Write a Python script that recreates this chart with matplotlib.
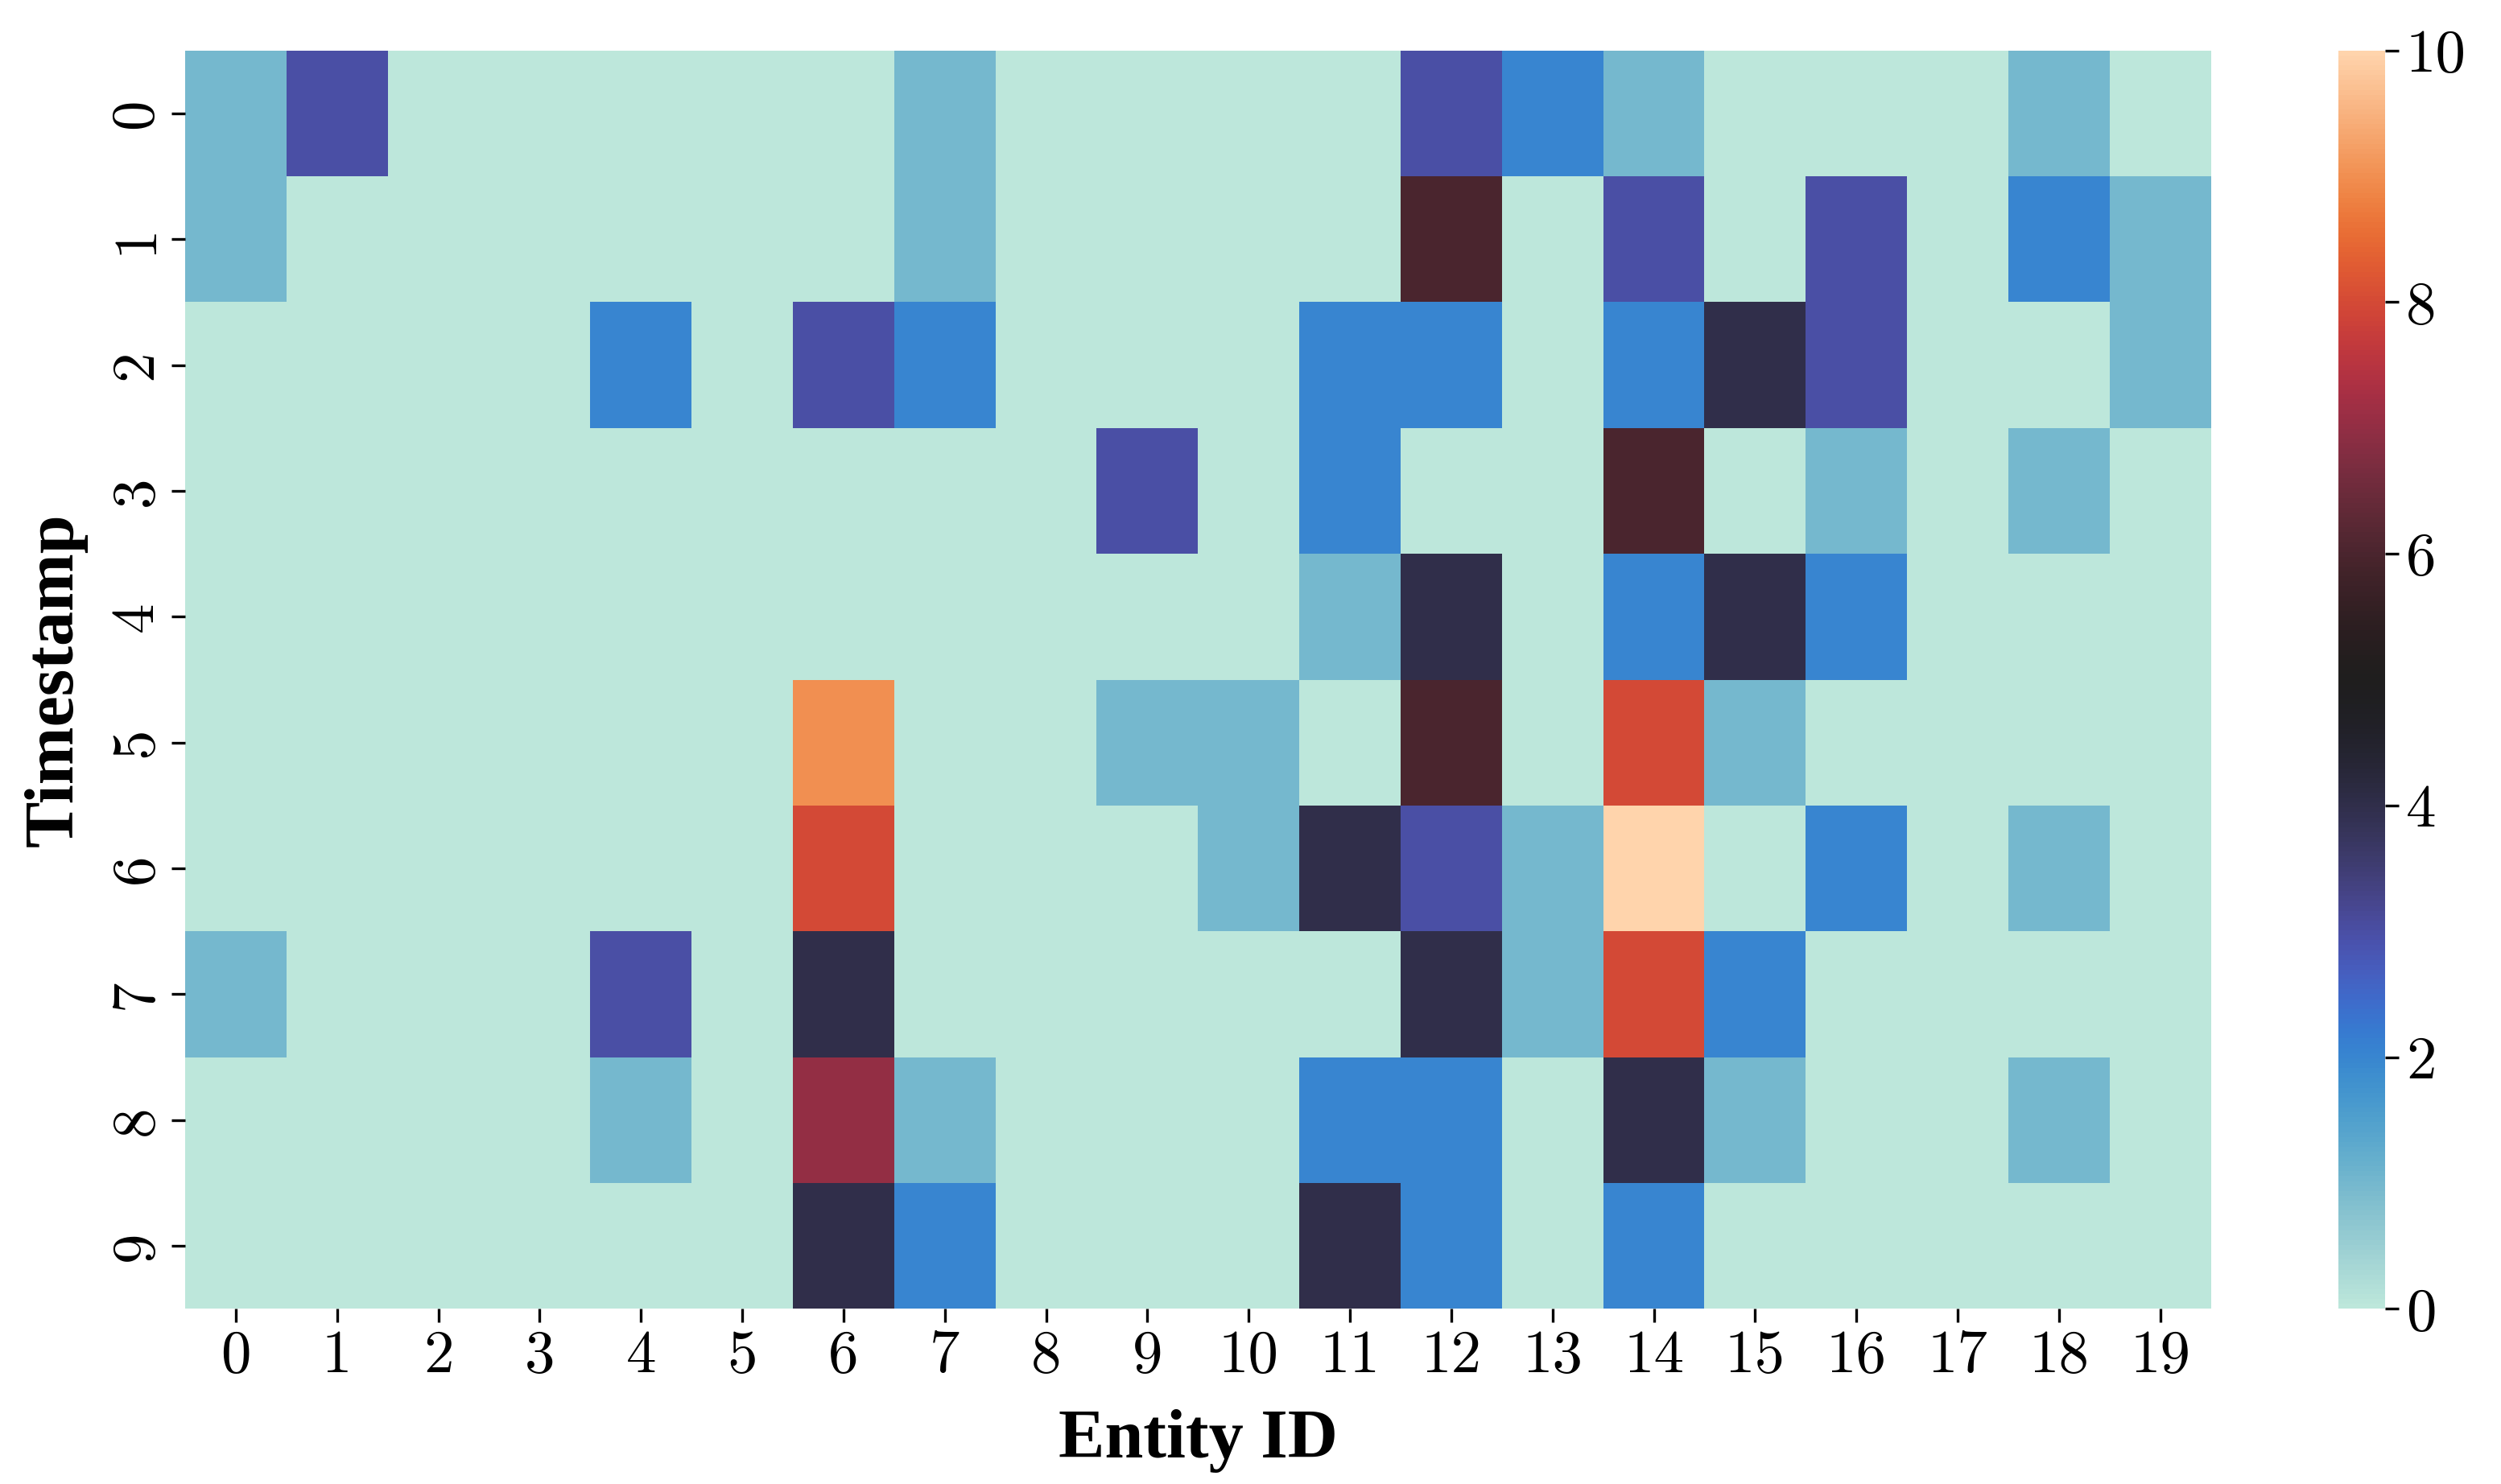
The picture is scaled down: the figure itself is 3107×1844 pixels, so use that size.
import numpy as np
import matplotlib.pyplot as plt
import seaborn as sns

# counts per timestamp (rows) and entity (columns)
timestamps = list(range(10))
entities = list(range(20))
counts = [
    [1, 3, 0, 0, 0, 0, 0, 1, 0, 0, 0, 0, 3, 2, 1, 0, 0, 0, 1, 0],
    [1, 0, 0, 0, 0, 0, 0, 1, 0, 0, 0, 0, 6, 0, 3, 0, 3, 0, 2, 1],
    [0, 0, 0, 0, 2, 0, 3, 2, 0, 0, 0, 2, 2, 0, 2, 4, 3, 0, 0, 1],
    [0, 0, 0, 0, 0, 0, 0, 0, 0, 3, 0, 2, 0, 0, 6, 0, 1, 0, 1, 0],
    [0, 0, 0, 0, 0, 0, 0, 0, 0, 0, 0, 1, 4, 0, 2, 4, 2, 0, 0, 0],
    [0, 0, 0, 0, 0, 0, 9, 0, 0, 1, 1, 0, 6, 0, 8, 1, 0, 0, 0, 0],
    [0, 0, 0, 0, 0, 0, 8, 0, 0, 0, 1, 4, 3, 1, 10, 0, 2, 0, 1, 0],
    [1, 0, 0, 0, 3, 0, 4, 0, 0, 0, 0, 0, 4, 1, 8, 2, 0, 0, 0, 0],
    [0, 0, 0, 0, 1, 0, 7, 1, 0, 0, 0, 2, 2, 0, 4, 1, 0, 0, 1, 0],
    [0, 0, 0, 0, 0, 0, 4, 2, 0, 0, 0, 4, 2, 0, 2, 0, 0, 0, 0, 0],
]

plt.rcParams["font.family"] = ["cmr10", "DejaVu Serif"]
plt.rcParams["axes.formatter.use_mathtext"] = True

fig = plt.figure(figsize=(15.535, 9.22), dpi=200)
ax = fig.add_axes([0.074, 0.118, 0.810, 0.848])
cax = fig.add_axes([0.935, 0.118, 0.0185, 0.848])

sns.heatmap(
    np.array(counts),
    ax=ax,
    cbar_ax=cax,
    cmap=sns.color_palette("icefire", as_cmap=True),
    vmin=0,
    vmax=10,
    xticklabels=entities,
    yticklabels=timestamps,
)

ax.tick_params(labelsize=27, length=6, width=1.2)
ax.set_yticklabels(timestamps, rotation=90, va="center")
ax.set_xlabel("Entity ID", fontsize=31, fontweight="bold",
              family="Liberation Serif", labelpad=11)
ax.set_ylabel("Timestamp", fontsize=31, fontweight="bold",
              family="Liberation Serif", labelpad=10)

cax.tick_params(labelsize=27, length=6, width=1.2)
cax.set_yticks([0, 2, 4, 6, 8, 10])
cax.set_yticklabels(["0", "2", "4", "6", "8", "10"])
for s in cax.spines.values():
    s.set_visible(False)

fig.savefig("out.png", dpi=200)
